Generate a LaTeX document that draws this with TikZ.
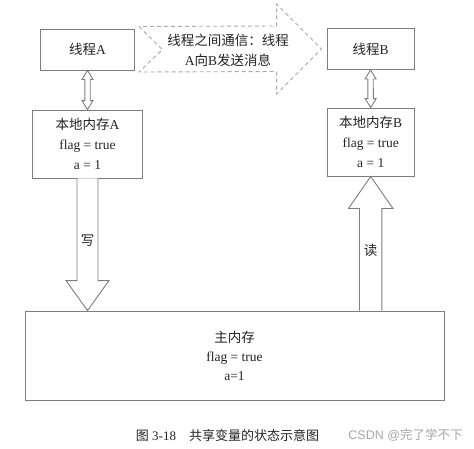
\documentclass[tikz,border=0pt]{standalone}
\usepackage{fontspec}
\setmainfont{Liberation Serif}
\newfontfamily\cjk{Noto Sans CJK SC}
\newfontfamily\wmfont{Liberation Sans}
\usetikzlibrary{calc}

\definecolor{linegray}{RGB}{125,125,125}
\definecolor{dashgray}{RGB}{170,170,170}
\definecolor{textgray}{RGB}{35,35,35}
\definecolor{markgray}{RGB}{165,165,165}

% vertical hollow arrow: tail, tip, shaft half width, head half width, head length
\newcommand{\blockarrow}[5]{%
  \coordinate (hb) at ($(#2)!#5pt!(#1)$);
  \draw[hollow] ($(#1)+(-#3,0)$) -- ($(hb)+(-#3,0)$) -- ($(hb)+(-#4,0)$) -- (#2)
    -- ($(hb)+(#4,0)$) -- ($(hb)+(#3,0)$) -- ($(#1)+(#3,0)$);
}
% vertical hollow double arrow between two anchors
\newcommand{\dblarrow}[2]{%
  \coordinate (ha) at ($(#1)!9pt!(#2)$);
  \coordinate (hb) at ($(#2)!9pt!(#1)$);
  \draw[hollow] (#1) -- ($(ha)+(5.5,0)$) -- ($(ha)+(2.7,0)$) -- ($(hb)+(2.7,0)$)
    -- ($(hb)+(5.5,0)$) -- (#2) -- ($(hb)+(-5.5,0)$) -- ($(hb)+(-2.7,0)$)
    -- ($(ha)+(-2.7,0)$) -- ($(ha)+(-5.5,0)$) -- cycle;
}

\tikzset{
  box/.style={draw=linegray, line width=0.9pt, text=textgray, align=center,
    inner sep=0pt, font=\fontsize{13.5}{20}\selectfont},
  hollow/.style={draw=linegray, line width=0.9pt, fill=white, line join=miter},
  msgarrow/.style={draw=dashgray, line width=0.9pt, dash pattern=on 4pt off 3pt},
}

\begin{document}
\begin{tikzpicture}[x=1pt, y=-1pt]
        \useasboundingbox (0,0) rectangle (474,448);

        \node[box, minimum width=94, minimum height=41] (thrA) at (87.5,49.5) {{\cjk 线程}A};
        \node[box, minimum width=87, minimum height=41] (thrB) at (370.5,49) {{\cjk 线程}B};

        \node[box, minimum width=110, minimum height=68] (memA) at (87.5,144)
            {{\cjk 本地内存}A\\flag = true\\a = 1};
        \node[box, minimum width=87, minimum height=68] (memB) at (370.7,142)
            {{\cjk 本地内存}B\\flag = true\\a = 1};

        \node[box, minimum width=419, minimum height=89,
            font=\fontsize{13.5}{19}\selectfont] (mainmem) at (234.5,355.5)
            {{\cjk 主内存}\\flag = true\\a=1};

        % message arrow
        \coordinate (tail) at ($(thrA.east)+(4,0)$);
        \coordinate (tip) at ($(thrB.west)+(-5,0)$);
        \draw[msgarrow] ($(tail)+(0,-23)$) -- ($(tail)+(23.4,0)$) -- ($(tail)+(0,22.5)$)
            -- ($(tip)+(-45,22.5)$) -- ($(tip)+(-45,45)$) -- (tip)
            -- ($(tip)+(-45,-45)$) -- ($(tip)+(-45,-23)$) -- cycle;
        \node[text=textgray, align=center, font=\fontsize{13.5}{20}\selectfont] (msg) at (228,50)
            {{\cjk 线程之间通信：线程}\\A{\cjk 向}B{\cjk 发送消息}};

        \dblarrow{thrA.south}{memA.north}
        \dblarrow{thrB.south}{memB.north}

        % write and read
        \blockarrow{memA.south}{memA.south |- mainmem.north}{10.5}{21.5}{30}
        \blockarrow{memB.south |- mainmem.north}{memB.south}{11.2}{22.2}{32}
        \node[text=textgray, font=\fontsize{13.5}{16}\selectfont\cjk] (wr) at (87.5,240.5) {写};
        \node[text=textgray, font=\fontsize{13.5}{16}\selectfont\cjk] (rd) at (370.7,250) {读};

        % caption and mark
        \node[text=textgray, font=\fontsize{13}{16}\selectfont] (cap) at (227.5,436)
            {{\cjk 图} 3-18{\cjk 　共享变量的状态示意图}};
        \node[text=markgray, font=\fontsize{12.5}{16}\selectfont\wmfont] (mark) at (405.5,435.5)
            {CSDN @{\cjk 完了学不下}};
    \end{tikzpicture}
\end{document}
